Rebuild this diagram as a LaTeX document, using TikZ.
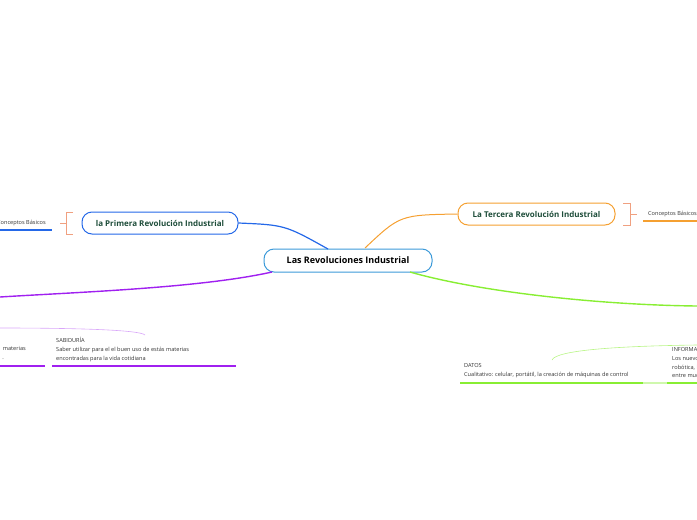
\documentclass[tikz,border=0pt]{standalone}
\usepackage{fontspec}
\setmainfont{Open Sans}
\definecolor{pblue}{HTML}{2468E8}
\definecolor{cblue}{HTML}{3C9AD9}
\definecolor{orng}{HTML}{F5A031}
\definecolor{brk}{HTML}{F0A080}
\definecolor{purp}{HTML}{A020F0}
\definecolor{grn}{HTML}{88EE33}
\definecolor{dgreen}{HTML}{1E4D3A}
\begin{document}
\begin{tikzpicture}[x=1pt,y=-1pt,
  topic/.style={draw,rounded corners=10pt,line width=1pt,fill=white,inner sep=0pt,font=\bfseries\fontsize{8}{9}\selectfont,text=dgreen},
  small/.style={font=\fontsize{5.6}{8.8}\selectfont,text=black!80,inner sep=0pt,align=left},
  brack/.style={draw=brk,line width=0.8pt}]
\useasboundingbox (0,0) rectangle (697,520);
\clip (0,0) rectangle (697,520);
\node[topic,draw=cblue,minimum width=168pt,minimum height=23pt,text=black,font=\bfseries\fontsize{9}{10}\selectfont] (c) at (348,260.5) {Las Revoluciones Industrial};
\node[topic,draw=pblue,minimum width=156pt,minimum height=22pt] (p) at (160,223) {la Primera Revolución Industrial};
\node[topic,draw=orng,minimum width=157pt,minimum height=22pt] (t) at (536.5,214) {La Tercera Revolución Industrial};
\draw[pblue,line width=1.2pt] (p.east) .. controls (285,225) .. (328,249);
\draw[orng,line width=1pt] (365,248) .. controls (400,215) .. (t.west);
\coordinate (pl) at (0,297);
\coordinate (gr) at (697,306);
\draw[purp,line width=1.4pt] (272,272) .. controls (200,288) and (80,292) .. (pl);
\draw[grn,line width=1.4pt] (410,272) .. controls (480,292) and (600,305) .. (gr);
\draw[brack] (73,212) -- (66,212) -- (66,234) -- (73,234) (66,223) -- (60,223);
\draw[brack] (623,203) -- (630,203) -- (630,225) -- (623,225) (630,214) -- (637,214);
\node[small,anchor=east] (cb1) at (46,223) {Conceptos Básicos};
\draw[pblue,line width=1.2pt] (0,230) -- (52,230);
\node[small,anchor=west] (cb2) at (648,214) {Conceptos Básicos};
\draw[orng,line width=1.2pt] (643,221) -- (697,221);
\draw[purp!40,line width=0.6pt] (0,328) .. controls (80,328) and (140,330) .. (145,335);
\node[small,anchor=north west] (sab) at (56,337) {SABIDURÍA\\Saber utilizar para el el buen uso de estás materias\\encontradas para la vida cotidiana};
\draw[purp,line width=1.2pt] (52,366) -- (236,366);
\node[small,anchor=north east,align=right] (sab0) at (26,346) {materias\\\hspace*{2pt}.\hspace*{22pt}};
\draw[purp,line width=1.2pt] (0,366) -- (45,366);
\draw[grn!60,line width=0.6pt] (552,360) .. controls (556,350) and (620,346) .. (697,345);
\node[small,anchor=north west] (dat) at (464,363) {DATOS\\Cualitativo: celular, portátil, la creación de máquinas de control};
\draw[grn,line width=1.2pt] (460,383) -- (643,383);
\draw[grn!40,line width=1.2pt] (643,383) -- (667,383);
\draw[grn,line width=1.2pt] (667,383) -- (697,383);
\node[small,anchor=north west] (inf) at (672,346) {INFORMACIÓN\\Los nuevos\\robótica, la\\entre muchos};
\end{tikzpicture}
\end{document}
